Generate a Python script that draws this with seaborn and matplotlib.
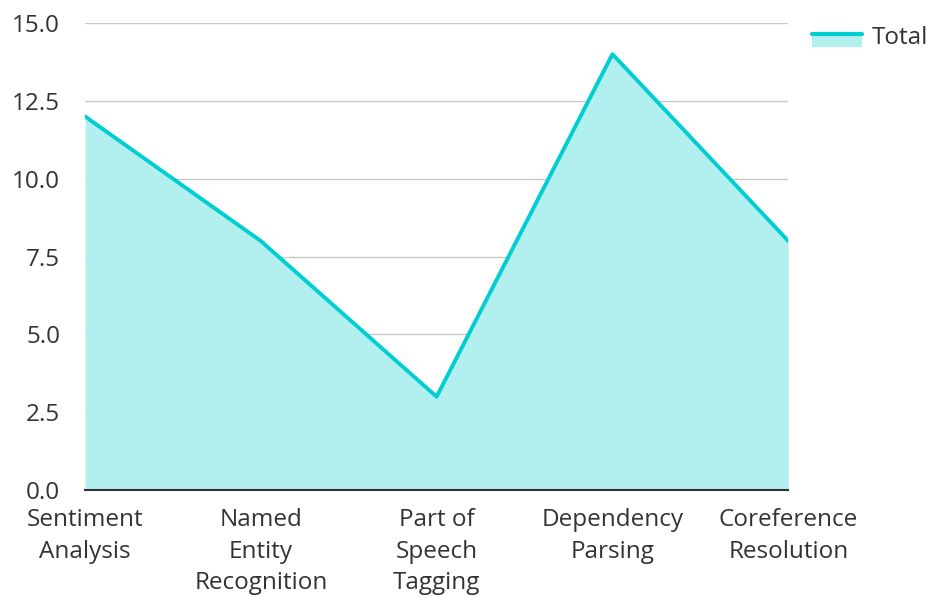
import pandas as pd
import matplotlib.pyplot as plt
import seaborn as sns
from matplotlib.patches import Rectangle
from matplotlib.lines import Line2D

# chart data
categories = ["Sentiment\nAnalysis", "Named\nEntity\nRecognition", "Part of\nSpeech\nTagging",
              "Dependency\nParsing", "Coreference\nResolution"]
totals = [12, 8, 3, 14, 8]
y_ticks = [0.0, 2.5, 5.0, 7.5, 10.0, 12.5, 15.0]

df = pd.DataFrame({"pos": range(len(categories)), "Total": totals})

sns.set_style("white")
plt.rcParams['font.family'] = ['Open Sans', 'DejaVu Sans']

line_color = "#00CED1"
fill_color = "#B2EFEF"
font_size = 17.5

fig = plt.figure(figsize=(9.29, 5.97), dpi=100)
ax = fig.add_axes([0.0915, 0.179, 0.757, 0.7825])

ax.fill_between(df["pos"], 0, df["Total"], color=fill_color, linewidth=0, zorder=2)
sns.lineplot(data=df, x="pos", y="Total", color=line_color, linewidth=2.8, ax=ax, zorder=3)

ax.set_xlim(0, len(categories) - 1)
ax.set_ylim(0, 15)
ax.set_yticks(y_ticks)
ax.set_yticklabels([f"{v:.1f}" for v in y_ticks])
ax.set_xticks(df["pos"])
ax.set_xticklabels(categories, linespacing=1.42)
ax.tick_params(axis="both", length=0, labelsize=font_size, labelcolor="#333333")
ax.tick_params(axis="y", pad=18)
ax.tick_params(axis="x", pad=13)
ax.set_xlabel("")
ax.set_ylabel("")
ax.yaxis.grid(True, color="#c8c8c8", linewidth=1, zorder=0)
ax.set_axisbelow(True)
for s in ["top", "right", "left"]:
    ax.spines[s].set_visible(False)
ax.spines["bottom"].set_color("#333333")
ax.spines["bottom"].set_linewidth(1.5)
ax.spines["bottom"].set_zorder(4)


class AreaHandler:
    def legend_artist(self, legend, orig_handle, fontsize, handlebox):
        x0, y0 = handlebox.xdescent, handlebox.ydescent
        w, h = handlebox.width, handlebox.height
        rect = Rectangle((x0, y0 - h * 0.2), w, h * 0.8, facecolor=fill_color,
                         edgecolor="none", transform=handlebox.get_transform())
        line = Line2D([x0, x0 + w], [y0 + h * 0.55, y0 + h * 0.55], color=line_color,
                      linewidth=3, transform=handlebox.get_transform())
        handlebox.add_artist(rect)
        handlebox.add_artist(line)
        return rect


handle = Rectangle((0, 0), 1, 1)
leg = fig.legend([handle], ["Total"], loc="upper left", bbox_to_anchor=(0.874, 0.957),
                 frameon=False, fontsize=font_size, handlelength=2.05, handletextpad=0.4,
                 borderpad=0, borderaxespad=0,
                 handler_map={Rectangle: AreaHandler()})
for t in leg.get_texts():
    t.set_color("#333333")

fig.savefig("out.png", dpi=100)
